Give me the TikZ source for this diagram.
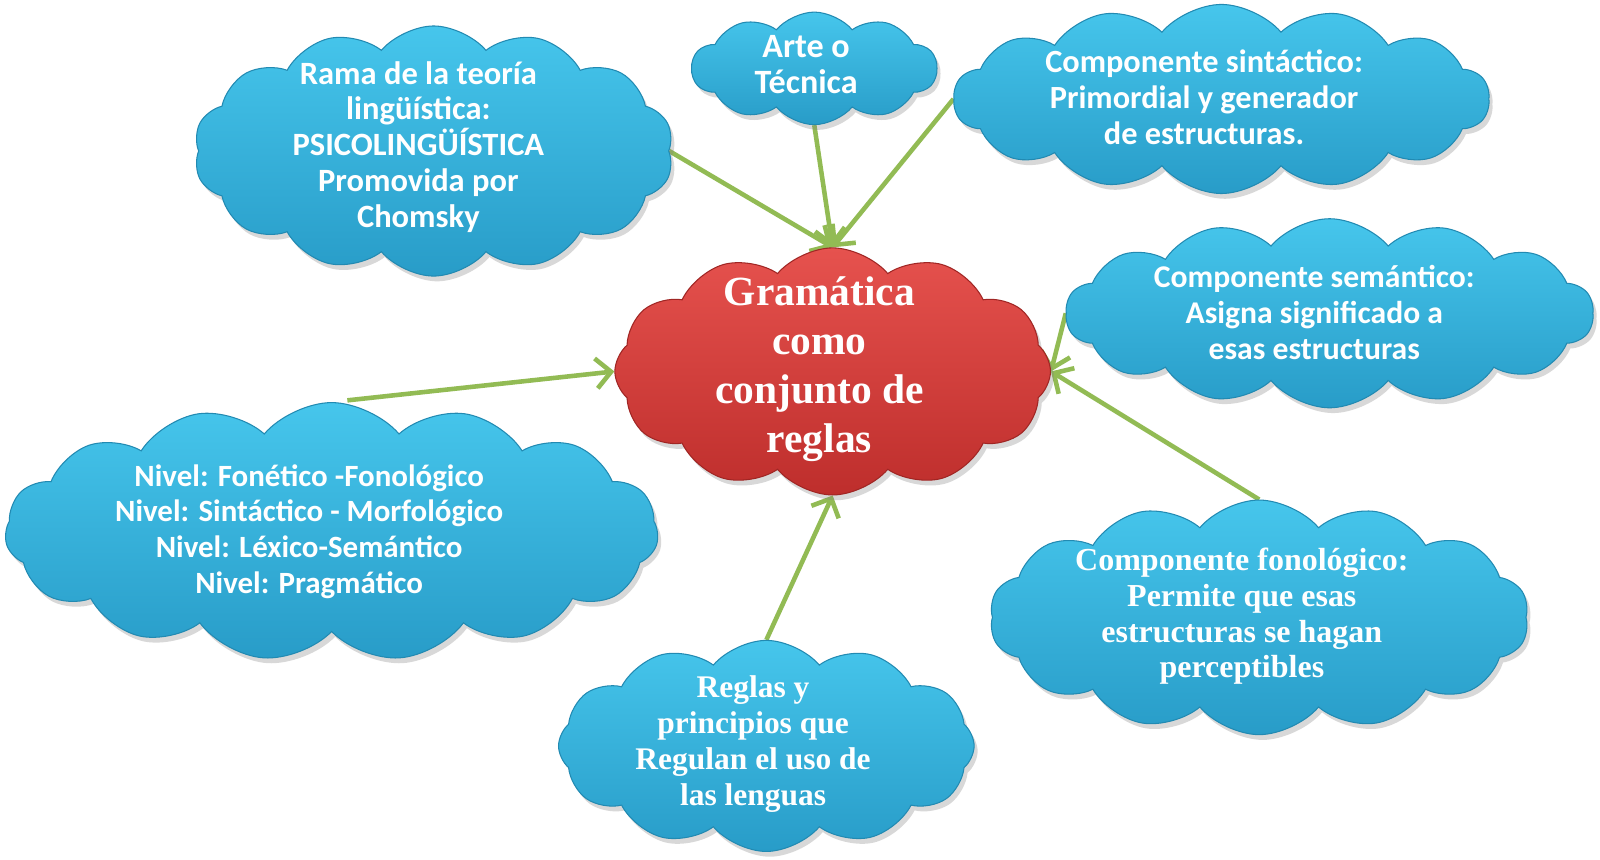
\documentclass[tikz,border=0pt]{standalone}
\usepackage{fontspec}
\setmainfont{Carlito}
\newfontfamily\serifbold{Liberation Serif}
\usetikzlibrary{shapes.symbols, arrows.meta, shadows, backgrounds}
\definecolor{blueTop}{RGB}{70,198,236}
\definecolor{blueBottom}{RGB}{40,156,200}
\definecolor{blueLine}{RGB}{34,138,178}
\definecolor{redTop}{RGB}{230,82,78}
\definecolor{redBottom}{RGB}{190,46,44}
\definecolor{redLine}{RGB}{160,38,36}
\definecolor{spokeGreen}{RGB}{146,187,84}

\begin{document}
\begin{tikzpicture}[
  x=0.020408cm, y=-0.020408cm,
  cloudbase/.style={cloud, cloud puffs=14, cloud puff arc=100, cloud ignores aspect,
    inner sep=0pt, line width=0.6pt,
    drop shadow={shadow xshift=2pt, shadow yshift=-3pt, opacity=0.3}},
  bluecloud/.style={cloudbase, draw=blueLine, top color=blueTop, bottom color=blueBottom},
  redcloud/.style={cloudbase, draw=redLine, top color=redTop, bottom color=redBottom},
  cloudtext/.style={text=white, align=center, inner sep=0pt,
    font=\bfseries\fontsize{18}{20.4}\selectfont},
  spoke/.style={draw=spokeGreen, line width=2.6pt, -{Straight Barb[length=3mm, width=6mm]}}
]
\useasboundingbox (0,0) rectangle (1568,842);
% clouds
\node[redcloud, cloud puffs=12, minimum width=8.71cm, minimum height=4.94cm] (gram) at (816,364) {};
\node[bluecloud, minimum width=9.59cm, minimum height=5cm] (rama) at (425,148) {};
\node[bluecloud, cloud puffs=10, minimum width=4.9cm, minimum height=2.25cm] (arte) at (798,67) {};
\node[bluecloud, minimum width=10.71cm, minimum height=3.78cm] (sint) at (1197,97) {};
\node[bluecloud, minimum width=10.55cm, minimum height=3.78cm] (sem) at (1303,307) {};
\node[bluecloud, cloud puffs=15, minimum width=13.06cm, minimum height=5.16cm] (nivel) at (325,521) {};
\node[bluecloud, minimum width=10.78cm, minimum height=4.69cm] (fon) at (1234,605) {};
\node[bluecloud, cloud puffs=12, minimum width=8.31cm, minimum height=4.22cm] (reglas) at (751,731) {};

% texts
\node[cloudtext, font=\serifbold\bfseries\fontsize{23.6}{27.8}\selectfont] (gram-t) at (803,362)
  {Gramática\\como\\conjunto de\\reglas};
\node[cloudtext, font=\bfseries\fontsize{18.5}{20.4}\selectfont] (rama-t) at (410,144)
  {Rama de la teoría\\lingüística:\\PSICOLINGÜÍSTICA\\Promovida por\\Chomsky};
\node[cloudtext, font=\bfseries\fontsize{19.4}{20.4}\selectfont] (arte-t) at (790,63) {Arte o\\Técnica};
\node[cloudtext, font=\bfseries\fontsize{18.4}{20.4}\selectfont] (sint-t) at (1180,95)
  {Componente sintáctico:\\Primordial y generador\\de estructuras.};
\node[cloudtext] (sem-t) at (1288,306)
  {Componente semántico:\\Asigna significado a\\esas estructuras};
\node[cloudtext, font=\bfseries\fontsize{17.6}{20.4}\selectfont] (nivel-t) at (303,521)
  {Nivel: Fonético -Fonológico\\Nivel: Sintáctico - Morfológico\\Nivel: Léxico-Semántico\\Nivel: Pragmático};
\node[cloudtext, font=\serifbold\bfseries\fontsize{18.2}{20.4}\selectfont] (fon-t) at (1217,604)
  {Componente fonológico:\\Permite que esas\\estructuras se hagan\\perceptibles};
\node[cloudtext, font=\serifbold\bfseries\fontsize{17.9}{20.4}\selectfont] (reglas-t) at (738,729)
  {Reglas y\\principios que\\Regulan el uso de\\las lenguas};

% arrows behind the clouds
\begin{scope}[on background layer]
\fill[white] (0,0) rectangle (1568,842);
\draw[spoke] (rama.east) -- (gram.north);
\draw[spoke] (arte.south) -- (gram.north);
\draw[spoke] (sint.west) -- (gram.north);
\draw[spoke] (sem.west) -- (gram.east);
\draw[spoke] (fon.north) -- (gram.east);
\draw[spoke, shorten <=9pt] (nivel.north) -- (gram.west);
\draw[spoke] (reglas.north) -- (gram.south);
\end{scope}
\end{tikzpicture}
\end{document}
